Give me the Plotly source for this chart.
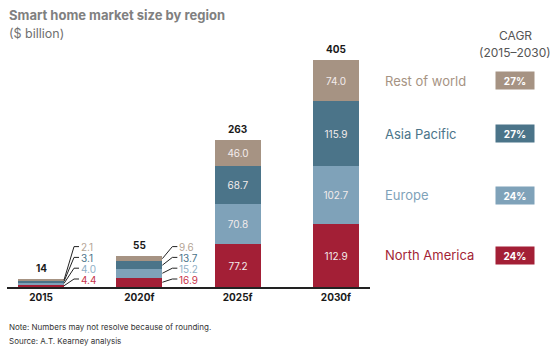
import plotly.graph_objects as go

categories = ["2015", "2020f", "2025f", "2030f"]
north_america = [4.4, 16.9, 77.2, 112.9]
europe = [4.0, 15.2, 70.8, 102.7]
asia_pacific = [3.1, 13.7, 68.7, 115.9]
rest_of_world = [2.1, 9.6, 46.0, 74.0]
totals = [14, 55, 263, 405]
series_names = ["North America", "Europe", "Asia Pacific", "Rest of world"]
cagr = ["24%", "24%", "27%", "27%"]
note = "Note: Numbers may not resolve because of rounding."
source = "Source: A.T. Kearney analysis"

colors = ["#A31F36", "#7FA2B9", "#4B7489", "#A69383"]
label_colors = ["#C8354B", "#8FB0C6", "#4B7489", "#B5A596"]
FONT = "Inter"

W, H = 559, 351
BASE_PX = 287
Y_MAX = 512.5
PX_PER_UNIT = BASE_PX / Y_MAX
X_RANGE = [-0.346, 3.346]
PX_PER_X = (370 - 7) / (X_RANGE[1] - X_RANGE[0])
BAR_W = 0.468

series = [north_america, europe, asia_pacific, rest_of_world]
xs = list(range(len(categories)))

fig = go.Figure()
for name, vals, col in zip(series_names, series, colors):
    txt = [f"{v:.1f}" if i >= 2 else "" for i, v in enumerate(vals)]
    fig.add_trace(go.Bar(
        x=xs, y=vals, name=name, marker=dict(color=col, line=dict(width=0)),
        width=BAR_W, text=txt, textposition="inside", insidetextanchor="middle",
        textangle=0, textfont=dict(color="#F3ECEC", size=10, family=FONT),
        hoverinfo="skip", showlegend=False,
    ))

annotations = []
shapes = []
# totals
for i, t in enumerate(totals):
    annotations.append(dict(x=i, y=t, xref="x", yref="y", text=f"<b>{t}</b>",
                            showarrow=False, yanchor="bottom", yshift=3,
                            font=dict(size=10, color="#1a1a1a", family=FONT)))

# outside labels with leader lines for first two bars
for i in [0, 1]:
    cum = 0
    for k, vals in enumerate(series):
        v = vals[i]
        mid = cum + v / 2
        cum += v
        label_y = (8 + 10.8 * k) / PX_PER_UNIT
        x_edge = i + BAR_W / 2
        x_elbow = x_edge + 10 / PX_PER_X
        x_end = x_elbow + 5 / PX_PER_X
        shapes.append(dict(type="path", xref="x", yref="y",
                           path=f"M {x_edge},{mid} L {x_elbow},{label_y} L {x_end},{label_y}",
                           line=dict(color="#222222", width=1)))
        annotations.append(dict(x=x_end, y=label_y, xref="x", yref="y",
                                text=f"{v:.1f}", showarrow=False, xanchor="left", yanchor="middle",
                                xshift=1, height=9, borderpad=0,
                                font=dict(size=10, color=label_colors[k], family=FONT)))

# legend aligned with 2030 segment midpoints
cum = 0
last = len(categories) - 1
for k, vals in enumerate(series):
    v = vals[last]
    mid = cum + v / 2
    cum += v
    annotations.append(dict(x=383 / W, y=mid, xref="paper", yref="y", text=series_names[k],
                            showarrow=False, xanchor="left", yanchor="middle",
                            font=dict(size=13, color=colors[k], family=FONT)))
    annotations.append(dict(x=515 / W, y=mid, xref="paper", yref="y", text=f"<b>{cagr[k]}</b>",
                            showarrow=False, xanchor="center", yanchor="middle", width=36, height=15,
                            borderpad=1, bgcolor=colors[k],
                            font=dict(size=10, color="white", family=FONT)))

def paper_text(x, y_px, text, size, color, anchor="left"):
    return dict(x=x / W, y=1 - y_px / H, xref="paper", yref="paper", text=text, showarrow=False,
                xanchor=anchor, yanchor="middle", font=dict(size=size, color=color, family=FONT))

annotations += [
    paper_text(515, 36, "CAGR", 12, "#555555", "center"),
    paper_text(515, 52, "(2015–2030)", 12, "#555555", "center"),
    paper_text(7, 15, "<b>Smart home market size by region</b>", 13, "#808080"),
    paper_text(7, 33, "($ billion)", 12.5, "#707070"),
    paper_text(7, 327, note, 8, "#333333"),
    paper_text(7, 341, source, 8, "#333333"),
]

fig.update_layout(
    width=W, height=H, margin=dict(l=0, r=0, t=0, b=0),
    barmode="stack", bargap=0, plot_bgcolor="white", paper_bgcolor="white",
    annotations=annotations, shapes=shapes, showlegend=False,
    xaxis=dict(domain=[7 / W, 370 / W], range=X_RANGE, tickvals=xs,
               ticktext=[f"<b>{c}</b>" for c in categories], showgrid=False, zeroline=False,
               showline=True, linecolor="#222222", linewidth=1.5, ticks="",
               tickfont=dict(size=10, color="#1a1a1a", family=FONT), fixedrange=True),
    yaxis=dict(domain=[(H - BASE_PX) / H, 1], range=[0, Y_MAX], visible=False, fixedrange=True),
)

fig.write_html("out.html")
